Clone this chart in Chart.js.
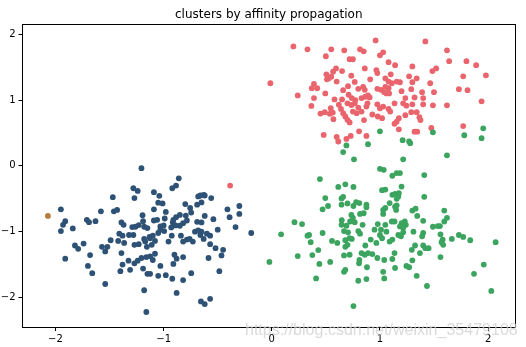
<!DOCTYPE html>
<html>
<head>
<meta charset="utf-8">
<script src="https://cdn.jsdelivr.net/npm/chart.js@4"></script>
<style>
  html, body { margin: 0; padding: 0; background: #ffffff; }
  #c { display: block; }
</style>
</head>
<body>
<canvas id="c" width="526" height="347"></canvas>
<script>
// ---- data ----
const chartTitle = "clusters by affinity propagation";
const watermark = "https://blog.csdn.net/weixin_35479108";
const xTickValues = [-2, -1, 0, 1, 2];
const yTickValues = [-2, -1, 0, 1, 2];

const blueX = [-1.205,-1.28,-1.24,-1.27,-1.47,-1.95,-1.58,-1.46,-1.43,-1.195,-1.91,-1.93,-1.95,-1.84,-1.71,-1.69,-1.63,-1.39,-1.37,-1.29,-1.26,-1.23,-1.19,-1.18,-1.15,-1.41,-1.38,-1.42,-1.365,-1.49,-1.32,-1.28,-1.82,-1.79,-1.74,-1.57,-1.54,-1.52,-1.27,-1.23,-1.18,-1.17,-1.155,-1.39,-1.68,-1.91,-1.325,-1.27,-1.24,-1.205,-1.16,-1.38,-1.40,-1.31,-1.70,-1.66,-1.19,-1.15,-1.54,-1.18,-1.16,-1.13,
  -0.86,-0.92,-0.885,-1.09,-1.04,-1.05,-1.01,-0.66,-0.63,-0.68,-0.62,-0.56,-0.80,-0.755,-0.69,-0.65,-1.09,-0.30,-0.41,-0.30,-0.39,-0.98,-0.85,-0.885,-0.91,-0.99,-1.06,-1.09,-0.795,-0.745,-0.785,-0.82,-0.62,-0.65,-0.69,-0.54,-0.915,-0.89,-0.93,-0.85,-1.03,-1.00,-1.03,-0.995,-1.05,-0.335,-0.50,-0.19,-0.71,-0.68,-0.65,-0.60,-0.57,-0.66,-0.63,-0.82,-0.76,-0.73,-0.785,-0.955,-0.925,-0.84,-1.125,-1.08,-1.10,-0.57,-0.52,-0.45,-0.465,-0.90,-0.88,-0.82,-0.585,-1.11,-1.08,-1.10,-1.125,-0.91,-1.03,-0.485,-0.745,-1.05,-0.98,-0.92,-0.82,-0.88,-0.655,-0.62,-0.57,-1.125];
const blueY = [-0.035,-0.34,-0.38,-0.49,-0.475,-0.66,-0.69,-0.69,-0.67,-0.75,-0.84,-0.895,-0.99,-0.95,-0.82,-0.855,-0.84,-0.86,-0.895,-0.93,-0.925,-0.90,-0.84,-0.925,-0.945,-1.03,-1.06,-1.14,-1.17,-1.13,-1.05,-1.05,-1.21,-1.26,-1.18,-1.23,-1.30,-1.23,-1.20,-1.19,-1.11,-1.15,-1.23,-1.325,-1.355,-1.41,-1.44,-1.48,-1.44,-1.40,-1.385,-1.50,-1.60,-1.58,-1.52,-1.63,-1.56,-1.64,-1.795,-1.89,-2.22,-1.08,
  -0.19,-0.34,-0.30,-0.40,-0.455,-0.56,-0.57,-0.45,-0.44,-0.465,-0.45,-0.49,-0.58,-0.64,-0.59,-0.555,-0.66,-0.61,-0.66,-0.73,-0.78,-0.70,-0.745,-0.78,-0.82,-0.80,-0.82,-0.83,-0.755,-0.71,-0.83,-0.87,-0.76,-0.86,-0.85,-0.81,-0.86,-0.905,-0.935,-0.91,-0.92,-0.905,-0.97,-0.99,-1.02,-0.93,-0.97,-1.02,-1.00,-0.98,-1.00,-1.03,-1.06,-1.05,-1.11,-1.15,-1.11,-1.15,-1.12,-1.15,-1.06,-1.06,-1.10,-1.14,-1.06,-1.19,-1.25,-1.275,-1.36,-1.35,-1.41,-1.385,-1.40,-1.20,-1.335,-1.43,-1.375,-1.49,-1.52,-1.60,-1.63,-1.67,-1.66,-1.715,-1.735,-1.93,-2.06,-2.10,-2.02,-1.64];

const greenX = [0.69,0.89,0.66,0.76,1.00,1.035,0.445,0.615,0.68,0.755,1.02,0.495,0.52,0.47,0.645,0.66,0.645,0.70,0.755,0.78,0.81,0.875,0.875,0.21,0.28,0.086,-0.022,0.345,0.36,0.33,0.47,0.24,0.375,0.43,0.44,0.54,0.41,0.557,0.606,0.647,0.645,0.69,0.724,0.736,0.767,0.75,0.816,0.85,0.668,0.705,0.72,0.68,0.74,0.80,0.816,0.84,0.915,0.95,0.98,1.00,0.967,1.02,1.01,0.68,0.70,0.865,0.668,0.72,0.83,0.86,0.89,0.93,0.81,0.807,0.88,0.976,0.68,0.668,0.80,0.875,0.755,1.03,1.04,1.04,1.03,1.03,1.00,
  1.49,1.21,1.28,1.27,1.955,1.78,1.94,1.215,1.62,1.115,1.155,1.185,1.41,1.20,1.115,1.14,1.175,1.17,1.155,1.41,1.09,1.155,1.15,1.14,1.05,1.05,1.30,1.33,1.345,1.595,1.62,1.595,1.40,1.11,1.135,1.20,1.23,1.24,1.215,1.185,1.17,1.215,1.195,1.31,1.05,1.06,1.49,1.535,1.555,1.40,1.39,1.56,1.73,1.77,1.835,1.665,2.07,1.58,1.585,1.57,1.09,1.115,1.325,1.295,1.37,1.40,1.42,1.45,1.135,1.115,1.30,1.56,1.245,1.27,1.14,1.96,1.87,1.34,1.435,2.03];
const greenY = [0.31,0.33,0.21,0.10,-0.045,-0.06,-0.20,-0.32,-0.28,-0.32,-0.37,-0.49,-0.61,-0.66,-0.495,-0.47,-0.59,-0.57,-0.61,-0.55,-0.565,-0.59,-0.63,-0.855,-0.885,-1.04,-1.46,-1.05,-1.16,-1.06,-1.02,-1.37,-1.355,-1.28,-1.49,-1.46,-1.71,-1.14,-1.17,-0.825,-0.895,-0.91,-0.845,-0.745,-0.855,-0.79,-0.73,-0.72,-0.99,-1.01,-1.10,-1.13,-1.11,-0.99,-1.03,-0.895,-1.12,-0.97,-0.885,-1.05,-1.17,-1.10,-0.97,-1.23,-1.20,-1.21,-1.36,-1.35,-1.325,-1.35,-1.325,-1.34,-1.43,-1.48,-1.54,-1.40,-1.58,-1.61,-1.745,-1.72,-2.13,-1.61,-1.71,-1.43,-0.67,-0.73,0.525,
  0.51,0.39,0.345,0.37,0.57,0.465,0.42,0.10,0.16,-0.15,-0.11,-0.11,-0.14,-0.315,-0.44,-0.425,-0.415,-0.465,-0.50,-0.47,-0.565,-0.60,-0.67,-0.62,-0.64,-0.36,-0.68,-0.65,-0.76,-0.68,-0.79,-0.845,-0.835,-0.845,-0.845,-0.87,-0.845,-0.895,-0.945,-0.92,-1.05,-1.01,-1.07,-1.00,-0.895,-1.00,-0.925,-0.915,-0.915,-1.02,-1.07,-1.04,-1.05,-1.08,-1.13,-1.11,-1.16,-1.12,-1.20,-1.16,-1.15,-1.12,-1.21,-1.275,-1.325,-1.21,-1.25,-1.25,-1.325,-1.415,-1.435,-1.385,-1.52,-1.54,-1.55,-1.50,-1.64,-1.67,-1.825,-1.90];

const redX = [-0.013,0.20,0.33,0.24,0.55,0.67,0.816,0.85,0.96,0.50,0.72,0.75,1.00,1.03,0.594,0.567,0.65,0.86,0.967,0.976,0.505,0.527,0.55,0.51,0.60,0.735,0.767,0.91,0.39,0.37,0.42,0.705,0.66,0.80,0.845,0.86,0.89,0.976,1.01,1.04,0.495,0.39,0.58,0.65,0.74,0.773,0.83,0.865,0.905,0.366,0.545,0.564,0.536,0.45,0.49,0.64,0.66,0.68,0.70,0.72,0.736,0.767,0.75,0.80,0.785,0.83,0.875,0.885,0.976,1.00,1.03,0.98,1.02,0.57,0.853,0.48,0.60,0.615,0.69,0.73,0.807,0.875,
  1.42,1.62,1.64,1.80,1.89,1.98,1.77,1.08,1.14,1.30,1.52,1.485,1.10,1.27,1.34,1.30,1.465,1.05,1.08,1.11,1.155,1.185,1.05,1.08,1.085,1.06,1.29,1.20,1.39,1.50,1.73,1.81,1.235,1.32,1.40,1.94,1.135,1.215,1.245,1.30,1.40,1.49,1.62,1.08,1.095,1.235,1.29,1.34,1.175,1.155,1.135,1.365,1.375,1.175,1.32,1.345,1.475,1.77,
  0.70,0.62,0.93,0.71,-0.385];
const redY = [1.255,1.815,1.77,1.07,1.77,1.755,1.77,1.74,1.905,1.665,1.62,1.62,1.68,1.725,1.48,1.43,1.44,1.48,1.455,1.41,1.39,1.33,1.355,1.315,1.28,1.37,1.275,1.315,1.245,1.18,1.18,1.21,1.15,1.17,1.20,1.155,1.07,1.17,1.155,1.12,1.10,1.03,1.01,1.01,1.03,1.00,1.03,1.05,1.04,0.91,0.875,0.81,0.79,0.795,0.815,0.865,0.80,0.75,0.70,0.66,0.925,0.95,0.825,0.885,0.80,0.825,0.90,0.95,0.935,0.875,0.90,0.75,0.725,0.71,0.695,0.47,0.44,0.37,0.41,0.455,0.525,0.455,
  1.89,1.755,1.59,1.59,1.53,1.375,1.36,1.575,1.53,1.51,1.48,1.44,1.39,1.36,1.33,1.27,1.255,1.33,1.28,1.255,1.28,1.27,1.20,1.18,1.10,1.10,1.165,1.135,1.12,1.12,1.165,1.15,1.03,1.04,1.03,0.98,0.95,0.95,0.915,0.935,0.935,0.92,0.92,0.865,0.825,0.77,0.815,0.815,0.725,0.67,0.64,0.74,0.695,0.555,0.52,0.52,0.575,0.605,
  0.95,0.93,0.78,1.08,-0.30];

const brownX = [-2.07];
const brownY = [-0.76];

// ---- build datasets ----
function pts(xs, ys) { return xs.map((x, i) => ({ x: x, y: ys[i] })); }
const colors = { blue: '#2e5275', green: '#3ba45f', red: '#ea646d', brown: '#b27e3c' };
function ds(label, xs, ys, c) {
  return { label, data: pts(xs, ys), backgroundColor: c, borderColor: c, borderWidth: 0,
           pointRadius: 2.9, pointHoverRadius: 2.9 };
}
const fmt = v => (v < 0 ? '\u2212' + Math.abs(v) : String(v));

const framePlugin = {
  id: 'frame',
  afterDraw(chart) {
    const { ctx, chartArea: a } = chart;
    ctx.save();
    ctx.strokeStyle = '#000';
    ctx.lineWidth = 1;
    ctx.strokeRect(Math.round(a.left) - 0.5, Math.round(a.top) - 0.5,
                   Math.round(a.right) - Math.round(a.left) + 1, Math.round(a.bottom) - Math.round(a.top) + 1);
    // title
    ctx.fillStyle = '#000';
    ctx.font = '12px "DejaVu Sans"';
    ctx.textAlign = 'center';
    ctx.textBaseline = 'middle';
    ctx.fillText(chartTitle, (a.left + a.right) / 2, 15);
    // watermark
    ctx.font = '17px "Liberation Sans"';
    const w = ctx.measureText(watermark).width;
    const size = 17 * 273 / w;
    ctx.font = size.toFixed(2) + 'px "Liberation Sans"';
    ctx.textAlign = 'left';
    ctx.textBaseline = 'alphabetic';
    ctx.fillStyle = 'rgba(205,205,205,0.75)';
    ctx.fillText(watermark, 245, 335);
    ctx.restore();
  }
};

new Chart(document.getElementById('c'), {
  type: 'scatter',
  data: {
    datasets: [
      ds('cluster 0', blueX, blueY, colors.blue),
      ds('cluster 1', greenX, greenY, colors.green),
      ds('cluster 2', redX, redY, colors.red),
      ds('cluster 3', brownX, brownY, colors.brown)
    ]
  },
  options: {
    responsive: false,
    devicePixelRatio: 1,
    animation: false,
    layout: { padding: { left: 0, right: 11, top: 25, bottom: 0 } },
    plugins: { legend: { display: false }, tooltip: { enabled: false }, title: { display: false } },
    scales: {
      x: {
        type: 'linear', min: -2.305, max: 2.249,
        afterBuildTicks: s => { s.ticks = xTickValues.map(v => ({ value: v })); },
        afterFit: s => { s.height = 20; },
        grid: { display: true, drawOnChartArea: false, drawTicks: true, tickLength: 4, color: '#000', tickColor: '#000' },
        border: { display: true, color: '#000', width: 1 },
        ticks: { color: '#000', font: { family: 'DejaVu Sans', size: 10 }, padding: 2, maxRotation: 0,
                 callback: v => fmt(v) }
      },
      y: {
        type: 'linear', min: -2.448, max: 2.14,
        afterBuildTicks: s => { s.ticks = yTickValues.map(v => ({ value: v })); },
        afterFit: s => { s.width = 22.5; },
        grid: { display: true, drawOnChartArea: false, drawTicks: true, tickLength: 4, color: '#000', tickColor: '#000' },
        border: { display: true, color: '#000', width: 1 },
        ticks: { color: '#000', font: { family: 'DejaVu Sans', size: 10 }, padding: 3,
                 callback: v => fmt(v) }
      }
    }
  },
  plugins: [framePlugin]
});
</script>
</body>
</html>
